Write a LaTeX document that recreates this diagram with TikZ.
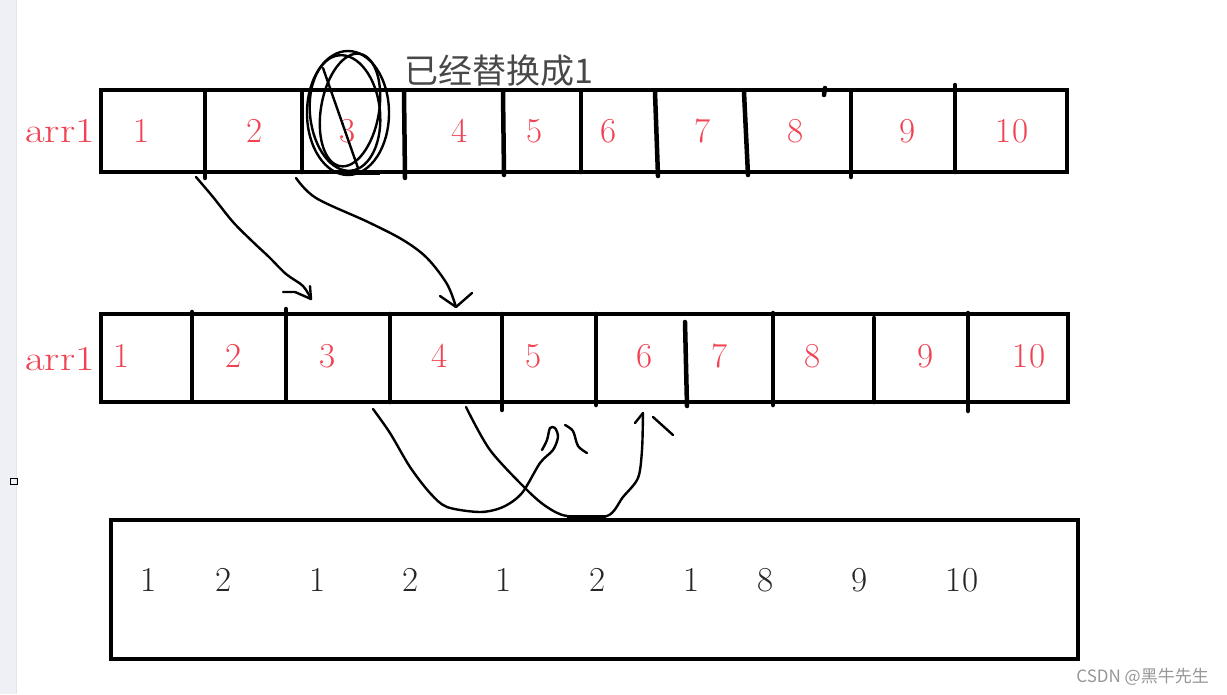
\documentclass[tikz,border=0pt]{standalone}
\usepackage{fontspec}
\usepackage{graphicx}
\newfontfamily\cjk{Noto Sans CJK SC}
\definecolor{numred}{RGB}{240,66,82}
\definecolor{strip}{RGB}{238,240,246}
\definecolor{cjkgray}{RGB}{72,72,72}
\definecolor{wmgray}{RGB}{150,150,150}
\begin{document}
\begin{tikzpicture}[x=1pt,y=-1pt,
  box/.style={line width=4.5pt},
  div/.style={line width=4.5pt, line cap=round},
  ink/.style={line width=2.4pt, line cap=round, line join=round},
  rnum/.style={text=numred, font=\fontsize{35}{35}\selectfont, inner sep=0pt},
  bnum/.style={text=black!85, font=\fontsize{35}{35}\selectfont, inner sep=0pt}]
\useasboundingbox (0,0) rectangle (1227,694);
\fill[white] (0,0) rectangle (1227,694);
\fill[strip] (0,0) rectangle (16,694);
\draw[black!10, line width=1pt] (16.5,0) -- (16.5,694);
\draw[line width=1pt] (10.5,478) rectangle (17,484.5);

% ---------- top array ----------
\draw[box] (101,90) rectangle (1067,172);
\foreach \xa/\ya/\xb/\yb in {205/92/205/178, 302/92/302/172, 404/92/405/178, 503/92/504/175,
  581/92/581/172, 655/92/658/176, 744/92/748/175, 851/92/851/177, 955/85/955/172, 825/88/824/95}
  \draw[div] (\xa,\ya) -- (\xb,\yb);
\foreach \x/\t in {142/1, 255/2, 348/3, 460/4, 535/5, 609/6, 703/7, 796/8, 908/9, 1012/10}
  \node[rnum] (t\t) at (\x,131) {\t};
\node[rnum] (lab1) at (60,131) {\scalebox{1.22}[1]{arr1}};
\node[text=cjkgray, font=\cjk\fontsize{34}{34}\selectfont, anchor=west, inner sep=0pt] (note) at (404,71) {已经替换成1};

% hand-drawn loops round 3
\draw[ink] (348,113) ellipse [x radius=41, y radius=62];
\draw[ink, rotate around={6:(345,113)}] (345,113) ellipse [x radius=35, y radius=58];
\draw[ink, rotate around={-10:(350,110)}] (350,110) ellipse [x radius=29, y radius=57];
\draw[ink] (323,68) -- (358,168);
\draw[line width=4pt] (345,173) -- (380,173);

% ---------- middle array ----------
\draw[box] (101,314) rectangle (1068,402);
\foreach \xa/\ya/\xb/\yb in {192/312/192/400, 286/309/286/400, 390/314/390/402, 502/314/502/410,
  596/314/596/405, 685/322/687/406, 773/313/773/405, 874/318/874/402, 968/313/968/411}
  \draw[div] (\xa,\ya) -- (\xb,\yb);
\foreach \x/\t in {122/1, 234/2, 328/3, 440/4, 534/5, 645/6, 720/7, 813/8, 926/9, 1029/10}
  \node[rnum] (m\t) at (\x,356) {\t};
\node[rnum] (lab2) at (60,359) {\scalebox{1.22}[1]{arr1}};

% ---------- arrows top -> middle ----------
\coordinate (a1s) at (196,177);
\coordinate (a1e) at (311,299);
\draw[ink] plot[smooth, tension=0.55] coordinates {(a1s) (213,197) (233,222) (253,242) (269,257) (286,274) (303,286) (a1e)};
\draw[ink] (310,286) -- (a1e);
\draw[ink] (283,292) -- (295,292) -- (a1e);
\coordinate (a2s) at (296,178);
\coordinate (a2e) at (456,307);
\draw[ink] plot[smooth, tension=0.55] coordinates {(a2s) (316,198) (368,222) (403,240) (427,258) (447,284) (a2e)};
\draw[ink] (440,296) -- (a2e) -- (472,293);

% ---------- curves middle -> bottom ----------
\coordinate (cAs) at (373,409);
\coordinate (cAe) at (542,450);
\draw[ink] plot[smooth, tension=0.5] coordinates {(cAs) (390,433) (410,467) (430,493) (447,507) (480,512) (503,507) (522,493) (540,463) (553,450) (558,437) (555,428) (550,428) (547,440) (cAe)};
\draw[ink] plot[smooth, tension=0.5] coordinates {(565,425) (573,431) (578,446) (587,453)};
\coordinate (cBs) at (466,407);
\coordinate (cBe) at (643,413);
\draw[ink] plot[smooth, tension=0.5] coordinates {(cBs) (490,450) (527,490) (547,507) (567,516) (607,516) (623,497) (638,478) (642,450) (cBe)};
\draw[line width=4pt] (567,517) -- (606,517);
\draw[ink] (635,423) -- (cBe);
\draw[ink] (653,417) -- (673,435);

% ---------- bottom box ----------
\draw[box] (111,520) rectangle (1078,659);
\foreach \x/\t/\n in {149/1/1, 224/2/2, 318/1/3, 411/2/4, 504/1/5, 598/2/6, 692/1/7, 766/8/8, 860/9/9, 962/10/10}
  \node[bnum] (b\n) at (\x,580) {\t};

% watermark
\node[text=wmgray, font=\cjk\fontsize{17}{17}\selectfont, anchor=east, inner sep=0pt] (wm) at (1209,677) {CSDN @黑牛先生};
\end{tikzpicture}
\end{document}
